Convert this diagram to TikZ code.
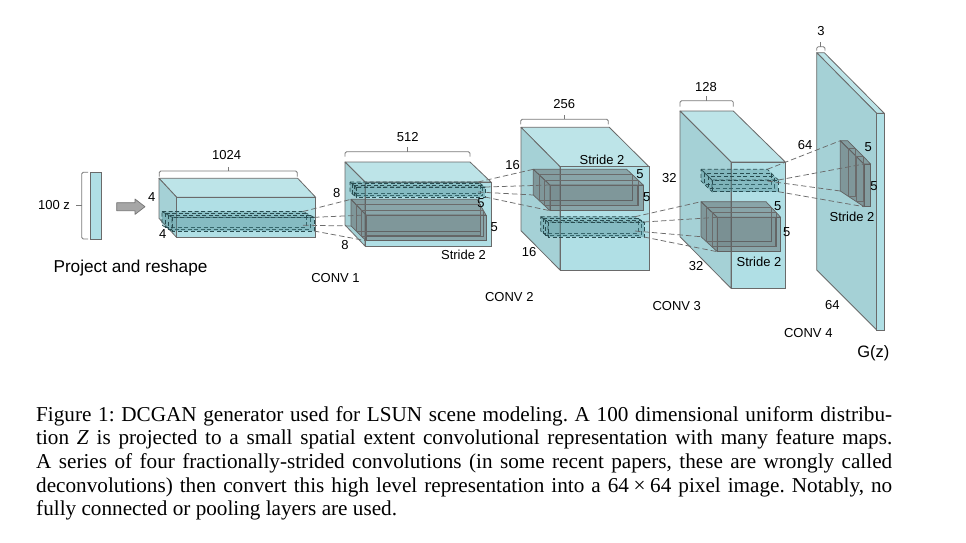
\documentclass[tikz,border=0pt]{standalone}
\usepackage{fontspec}
\setmainfont{Liberation Sans}
\newfontfamily\capfont{Liberation Serif}
\usetikzlibrary{calc}
\definecolor{frontc}{HTML}{B0DFE5}
\definecolor{topc}{HTML}{BDE4E8}
\definecolor{leftc}{HTML}{A5D1D6}
\definecolor{edgec}{HTML}{6A6A6A}
\definecolor{kerc}{HTML}{5A5F60}
\definecolor{slbc}{HTML}{4A8B92}
\definecolor{brkc}{HTML}{7A7A7A}
\tikzset{
  blk top/.style={fill=topc,draw=edgec,line width=0.8pt,line join=round},
  blk left/.style={fill=leftc,draw=edgec,line width=0.8pt,line join=round},
  blk front/.style={fill=frontc,draw=edgec,line width=0.8pt},
  ker top/.style={fill=kerc,fill opacity=0.45,draw=black!62,line width=0.7pt,line join=round},
  ker left/.style={fill=kerc,fill opacity=0.5,draw=black!62,line width=0.7pt,line join=round},
  ker front/.style={fill=kerc,fill opacity=0.45,draw=black!62,line width=0.7pt},
  ker slice/.style={draw=black!58,line width=0.6pt},
  ker inner/.style={fill=kerc,fill opacity=0.2,draw=black!60,line width=0.6pt},
  slb top/.style={fill=slbc,fill opacity=0.38,draw=slbc!55!black,dash pattern=on 4pt off 2.5pt,line width=0.7pt},
  slb left/.style={fill=slbc,fill opacity=0.42,draw=slbc!55!black,dash pattern=on 4pt off 2.5pt,line width=0.7pt},
  slb front/.style={fill=slbc,fill opacity=0.42,draw=slbc!55!black,dash pattern=on 4pt off 2.5pt,line width=0.7pt},
  slb slice/.style={draw=slbc!55!black,dash pattern=on 4pt off 2.5pt,line width=0.6pt},
  fanline/.style={draw=black!58,dash pattern=on 5.5pt off 3pt,line width=0.75pt},
  brk/.style={draw=brkc,line width=0.8pt,rounded corners=1.5pt},
  lbl/.style={font=\fontsize{13}{15}\selectfont,inner sep=0pt},
  capline/.style={font=\capfont\fontsize{21.2}{24}\selectfont\frenchspacing,inner sep=0pt,anchor=base west},
}
% cuboid: name, style, front top-left, front bottom-right, back top-left, back bottom-right
\newcommand\cuboid[6]{%
  \coordinate (#1ftl) at (#3);
  \coordinate (#1fbr) at (#4);
  \coordinate (#1btl) at (#5);
  \coordinate (#1bbr) at (#6);
  \coordinate (#1ftr) at (#1fbr |- #1ftl);
  \coordinate (#1fbl) at (#1ftl |- #1fbr);
  \coordinate (#1btr) at (#1bbr |- #1btl);
  \coordinate (#1bbl) at (#1btl |- #1bbr);
  \path[#2 top] (#1btl) -- (#1btr) -- (#1ftr) -- (#1ftl) -- cycle;
  \path[#2 left] (#1btl) -- (#1ftl) -- (#1fbl) -- (#1bbl) -- cycle;
}
\newcommand\cubfront[2]{\path[#2 front] (#1ftl) rectangle (#1fbr);}
\newcommand\slices[2]{%
  \foreach \t in {0.33,0.67}{%
    \path[#2 slice] ($(#1btl)!\t!(#1ftl)$) rectangle ($(#1bbr)!\t!(#1fbr)$);}}
\newcommand\fan[2]{%
  \draw[fanline] (#1btr) -- (#2btl);
  \draw[fanline] (#1ftr) -- (#2ftl);
  \draw[fanline] (#1bbr) -- (#2bbl);
  \draw[fanline] (#1fbr) -- (#2fbl);}
\newcommand\topbrace[4]{%
  \draw[brk] (#1,#4) -- (#1,#3) -- (#2,#3) -- (#2,#4);
  \draw[brk] ({(#1+#2)/2},#3) -- ++(0,-4.5);}

\begin{document}
\begin{tikzpicture}[x=1pt,y=-1pt]
\useasboundingbox (0,0) rectangle (966,542);
\fill[white] (0,0) rectangle (966,542);

% ---- input z ----
\draw[blk front] (90.7,172.3) rectangle (101.7,239);
\draw[brk] (88,172.3) -- (81.7,172.3) -- (81.7,239) -- (88,239);
\draw[brk] (81.7,205.7) -- (76,205.7);
\node[lbl] (zlab) at (54,205) {100 z};
\draw[fill=black!35,draw=black!55,line width=0.7pt,line join=round]
  (116.7,202.7) -- (135,202.7) -- (135,199) -- (145,206.7) -- (135,214.4) -- (135,210.7) -- (116.7,210.7) -- cycle;
\node[inner sep=0pt,font=\fontsize{17.2}{20}\selectfont] (proj) at (130.5,268.5) {Project and reshape};

% ---- block 1 (1024) ----
\cuboid{Ba}{blk}{176.7,197.3}{315.7,237.5}{159,178.3}{297.7,218.3}\cubfront{Ba}{blk}
\cuboid{Sa}{slb}{172,217.3}{314,231}{162,211.5}{303,225.2}
\slices{Sa}{slb}\cubfront{Sa}{slb}
\topbrace{159.3}{297.3}{171}{176.5}
\node[lbl] (n1024) at (226.7,155) {1024};
\node[lbl] (n4a) at (151.7,196.7) {4};
\node[lbl] (n4b) at (162.7,234.3) {4};

% ---- block 2 (512) ----
\cuboid{Bb}{blk}{365,182}{491,246}{345,162}{470,225}\cubfront{Bb}{blk}
\cuboid{Sb}{slb}{356,187}{485,197}{350,182}{478,192}
\slices{Sb}{slb}\cubfront{Sb}{slb}
\cuboid{Tb}{ker}{366,215}{486,240.7}{351,199.3}{477,226}
\slices{Tb}{ker}\cubfront{Tb}{ker}
\path[ker inner] (Tbftl) rectangle ($(Tbfbr)+(-6,-5.5)$);
\topbrace{345}{470}{151.7}{156.7}
\node[lbl] (n512) at (407.7,136.7) {512};
\node[lbl] (n8a) at (336.7,193.3) {8};
\node[lbl] (n8b) at (345,245) {8};
\node[lbl] (n5a) at (481,203.3) {5};
\node[lbl] (n5b) at (494.3,226.7) {5};
\node[lbl] (st1) at (463.5,255) {Stride 2};
\node[lbl] (cv1) at (335.5,278) {CONV 1};

% ---- block 3 (256) ----
\cuboid{Bc}{blk}{560,166.7}{649,270}{521,127.3}{609.3,230.7}\cubfront{Bc}{blk}
\cuboid{Tc}{ker}{550,185}{643.3,210.7}{533.3,169.3}{626.7,195}
\slices{Tc}{ker}\cubfront{Tc}{ker}
\path[ker inner] (Tcftl) rectangle ($(Tcfbr)+(-6,-5.5)$);
\cuboid{Sc}{slb}{548,222}{644,237}{540.7,216.7}{635,231}
\slices{Sc}{slb}\cubfront{Sc}{slb}
\topbrace{520.7}{608.3}{119.3}{124.3}
\node[lbl] (n256) at (564.3,104) {256};
\node[lbl] (n16a) at (512.7,165) {16};
\node[lbl] (n16b) at (529,252.3) {16};
\node[lbl] (st2) at (602,160) {Stride 2};
\node[lbl] (n5c) at (640,174) {5};
\node[lbl] (n5d) at (646.7,197.3) {5};
\node[lbl] (cv2) at (509.3,296.7) {CONV 2};

% ---- block 4 (128) ----
\cuboid{Bd}{blk}{731,162}{785.3,288.3}{680,111}{733.3,236.7}\cubfront{Bd}{blk}
\cuboid{Sd}{slb}{712,180}{778.3,191.7}{701,169.3}{767.3,181}
\slices{Sd}{slb}\cubfront{Sd}{slb}
\cuboid{Td}{ker}{717.3,217.3}{780.7,251.7}{701,201.7}{766,236.7}
\slices{Td}{ker}\cubfront{Td}{ker}
\path[ker inner] (Tdftl) rectangle ($(Tdfbr)+(-5,-5)$);
\topbrace{680}{733.3}{100.7}{106.7}
\node[lbl] (n128) at (706,86.7) {128};
\node[lbl] (n32a) at (669.3,178.3) {32};
\node[lbl] (n32b) at (696,266) {32};
\node[lbl] (n5e) at (777.7,206) {5};
\node[lbl] (n5f) at (786.7,231.7) {5};
\node[lbl] (st3) at (759,261.7) {Stride 2};
\node[lbl] (cv3) at (676.7,306) {CONV 3};

% ---- block 5 (G(z)) ----
\cuboid{Be}{blk}{876.7,113.3}{884.3,330}{816.7,52.7}{824.3,270}\cubfront{Be}{blk}
\cuboid{Te}{ker}{864,164}{870.7,206.7}{840.3,140.7}{847.7,191}
\slices{Te}{ker}\cubfront{Te}{ker}
\topbrace{816.7}{825}{46.7}{50.5}
\node[lbl] (n3) at (821,30.7) {3};
\node[lbl] (n64a) at (805,145) {64};
\node[lbl] (n5g) at (868.3,147.3) {5};
\node[lbl] (n5h) at (874,186) {5};
\node[lbl] (st4) at (852,216.5) {Stride 2};
\node[lbl] (n64b) at (832.3,305) {64};
\node[lbl] (cv4) at (808.3,333.3) {CONV 4};
\node[inner sep=0pt,font=\fontsize{16.5}{19}\selectfont] (gz) at (873.3,353.3) {G(z)};

% ---- fans ----
\fan{Sa}{Tb}
\fan{Sb}{Tc}
\fan{Sc}{Td}
\fan{Sd}{Te}

% ---- caption ----
\node[capline] (c1) at (36,421) {\hbox to 856pt{Figure 1: DCGAN generator used for LSUN scene modeling. A 100 dimensional uniform distribu-}};
\node[capline] (c2) at (36,444.7) {\hbox to 856pt{tion \textit{Z} is projected to a small spatial extent convolutional representation with many feature maps.}};
\node[capline] (c3) at (36,468.4) {\hbox to 856pt{A series of four fractionally-strided convolutions (in some recent papers, these are wrongly called}};
\node[capline] (c4) at (36,492.1) {\hbox to 856pt{deconvolutions) then convert this high level representation into a 64\hspace{0.22em}×\hspace{0.22em}64 pixel image. Notably, no}};
\node[capline] (c5) at (36,515.8) {fully connected or pooling layers are used.};
\end{tikzpicture}
\end{document}
